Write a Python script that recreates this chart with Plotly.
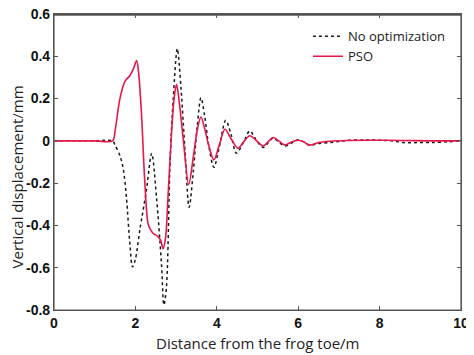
import plotly.graph_objects as go

# No optimization (black dashed) - read points
no_opt_x = [0, 1.0, 1.44, 1.5, 1.62, 1.70, 1.78, 1.87, 1.93, 2.0, 2.11, 2.27, 2.40, 2.52, 2.64, 2.70, 2.76,
            2.85, 2.93, 3.03, 3.12, 3.22, 3.32, 3.42, 3.52, 3.61, 3.70, 3.80, 3.93, 4.06, 4.22, 4.35,
            4.48, 4.65, 4.81, 4.98, 5.14, 5.26, 5.38, 5.52, 5.67, 5.84, 6.0, 6.14, 6.28, 6.5, 6.77,
            7.0, 7.26, 7.6, 8.0, 8.3, 8.57, 9.0, 9.3, 9.7, 10.0]
no_opt_y = [0, 0, 0, -0.02, -0.07, -0.13, -0.27, -0.50, -0.596, -0.56, -0.42, -0.235, -0.06, -0.27, -0.58, -0.776, -0.70,
            -0.11, 0.20, 0.436, 0.25, -0.05, -0.314, -0.15, 0.07, 0.204, 0.12, -0.02, -0.125, -0.03, 0.097, 0.03,
            -0.058, -0.01, 0.047, 0.0, -0.031, -0.01, 0.013, -0.005, -0.024, -0.01, 0.005, -0.005, -0.02, -0.012, -0.008,
            -0.003, 0.003, 0.004, 0.003, 0.0, -0.008, -0.008, -0.008, -0.004, 0.0]

# PSO (red solid) - read points
pso_x = [0, 1.0, 1.44, 1.5, 1.62, 1.74, 1.87, 1.96, 2.03, 2.08, 2.15, 2.23, 2.31, 2.37, 2.45, 2.52, 2.62,
         2.68, 2.74, 2.80, 2.89, 2.95, 3.01, 3.08, 3.18, 3.31, 3.42, 3.52, 3.61, 3.70, 3.80, 3.93, 4.06,
         4.20, 4.35, 4.52, 4.66, 4.81, 4.98, 5.14, 5.26, 5.38, 5.52, 5.67, 5.84, 6.0, 6.14, 6.28, 6.5,
         6.77, 7.2, 7.8, 8.5, 9.2, 10.0]
pso_y = [0, 0, 0, 0.047, 0.20, 0.28, 0.31, 0.345, 0.38, 0.32, 0.125, -0.19, -0.39, -0.42, -0.44, -0.447, -0.47,
         -0.51, -0.46, -0.27, 0.047, 0.20, 0.267, 0.18, 0.0, -0.207, -0.08, 0.05, 0.113, 0.06, -0.02, -0.09, -0.02,
         0.055, 0.01, -0.035, -0.005, 0.024, 0.0, -0.024, -0.005, 0.016, 0.0, -0.019, -0.005, 0.003, -0.005, -0.02, -0.008,
         -0.002, 0.002, 0.003, 0.002, 0.0, 0.0]

x_ticks = [0, 2, 4, 6, 8, 10]
y_ticks = [0.6, 0.4, 0.2, 0, -0.2, -0.4, -0.6, -0.8]
y_tick_text = ["0.6", "0.4", "0.2", "0", "-0.2", "-0.4", "-0.6", "-0.8"]
x_title = "Distance from the frog toe/m"
y_title = "Vertical displacement/mm"

AX = "#555555"

fig = go.Figure()
fig.add_trace(go.Scatter(
    x=no_opt_x, y=no_opt_y, mode="lines", name="No optimization",
    line=dict(color="#1a1a1a", width=1.5, dash="3px,3px", shape="spline", smoothing=0.9),
))
fig.add_trace(go.Scatter(
    x=pso_x, y=pso_y, mode="lines", name="PSO",
    line=dict(color="#e8174a", width=1.6, shape="spline", smoothing=0.9),
))

axis_common = dict(
    showline=True, linecolor=AX, linewidth=1.2, mirror="ticks",
    ticks="inside", ticklen=4, tickcolor=AX, showgrid=False, zeroline=False,
    automargin=False, ticklabeloverflow="allow",
    tickfont=dict(family="Liberation Sans", size=14, color="#111111", weight="bold"),
)

fig.update_xaxes(range=[0, 10], tickvals=x_ticks, ticktext=[str(v) for v in x_ticks], **axis_common)
fig.update_yaxes(range=[-0.8, 0.6], tickvals=y_ticks, ticktext=y_tick_text, **axis_common)

# explicit plot frame, with a slightly stronger top edge
fig.add_shape(type="rect", xref="paper", yref="paper", x0=0, x1=1, y0=0, y1=1,
              line=dict(color=AX, width=1.2), layer="above")
fig.add_shape(type="line", xref="paper", yref="paper", x0=0, x1=1, y0=0.997, y1=0.997,
              line=dict(color=AX, width=1.6), layer="above")

title_font = dict(family="Open Sans", size=15, color="#222222")
fig.add_annotation(
    text=x_title, xref="paper", yref="paper", x=0.5, y=-0.11,
    xanchor="center", yanchor="middle", showarrow=False, font=title_font,
)
fig.add_annotation(
    text=y_title, xref="paper", yref="paper", x=-0.091, y=0.451,
    xanchor="center", yanchor="middle", showarrow=False, textangle=-90, font=title_font,
)

# page body has an 8px margin, so the figure is sized and placed to compensate
fig.update_layout(
    width=466, height=347,
    margin=dict(l=46, r=13, t=6, b=45, autoexpand=False),
    plot_bgcolor="white", paper_bgcolor="white",
    showlegend=True,
    legend=dict(
        x=0.624, y=0.975, xanchor="left", yanchor="top",
        bgcolor="rgba(0,0,0,0)", borderwidth=0,
        font=dict(family="Open Sans", size=13, color="#222222"),
        itemwidth=30, tracegroupgap=0,
    ),
)

fig.write_html("out.html", config={"displayModeBar": False})
